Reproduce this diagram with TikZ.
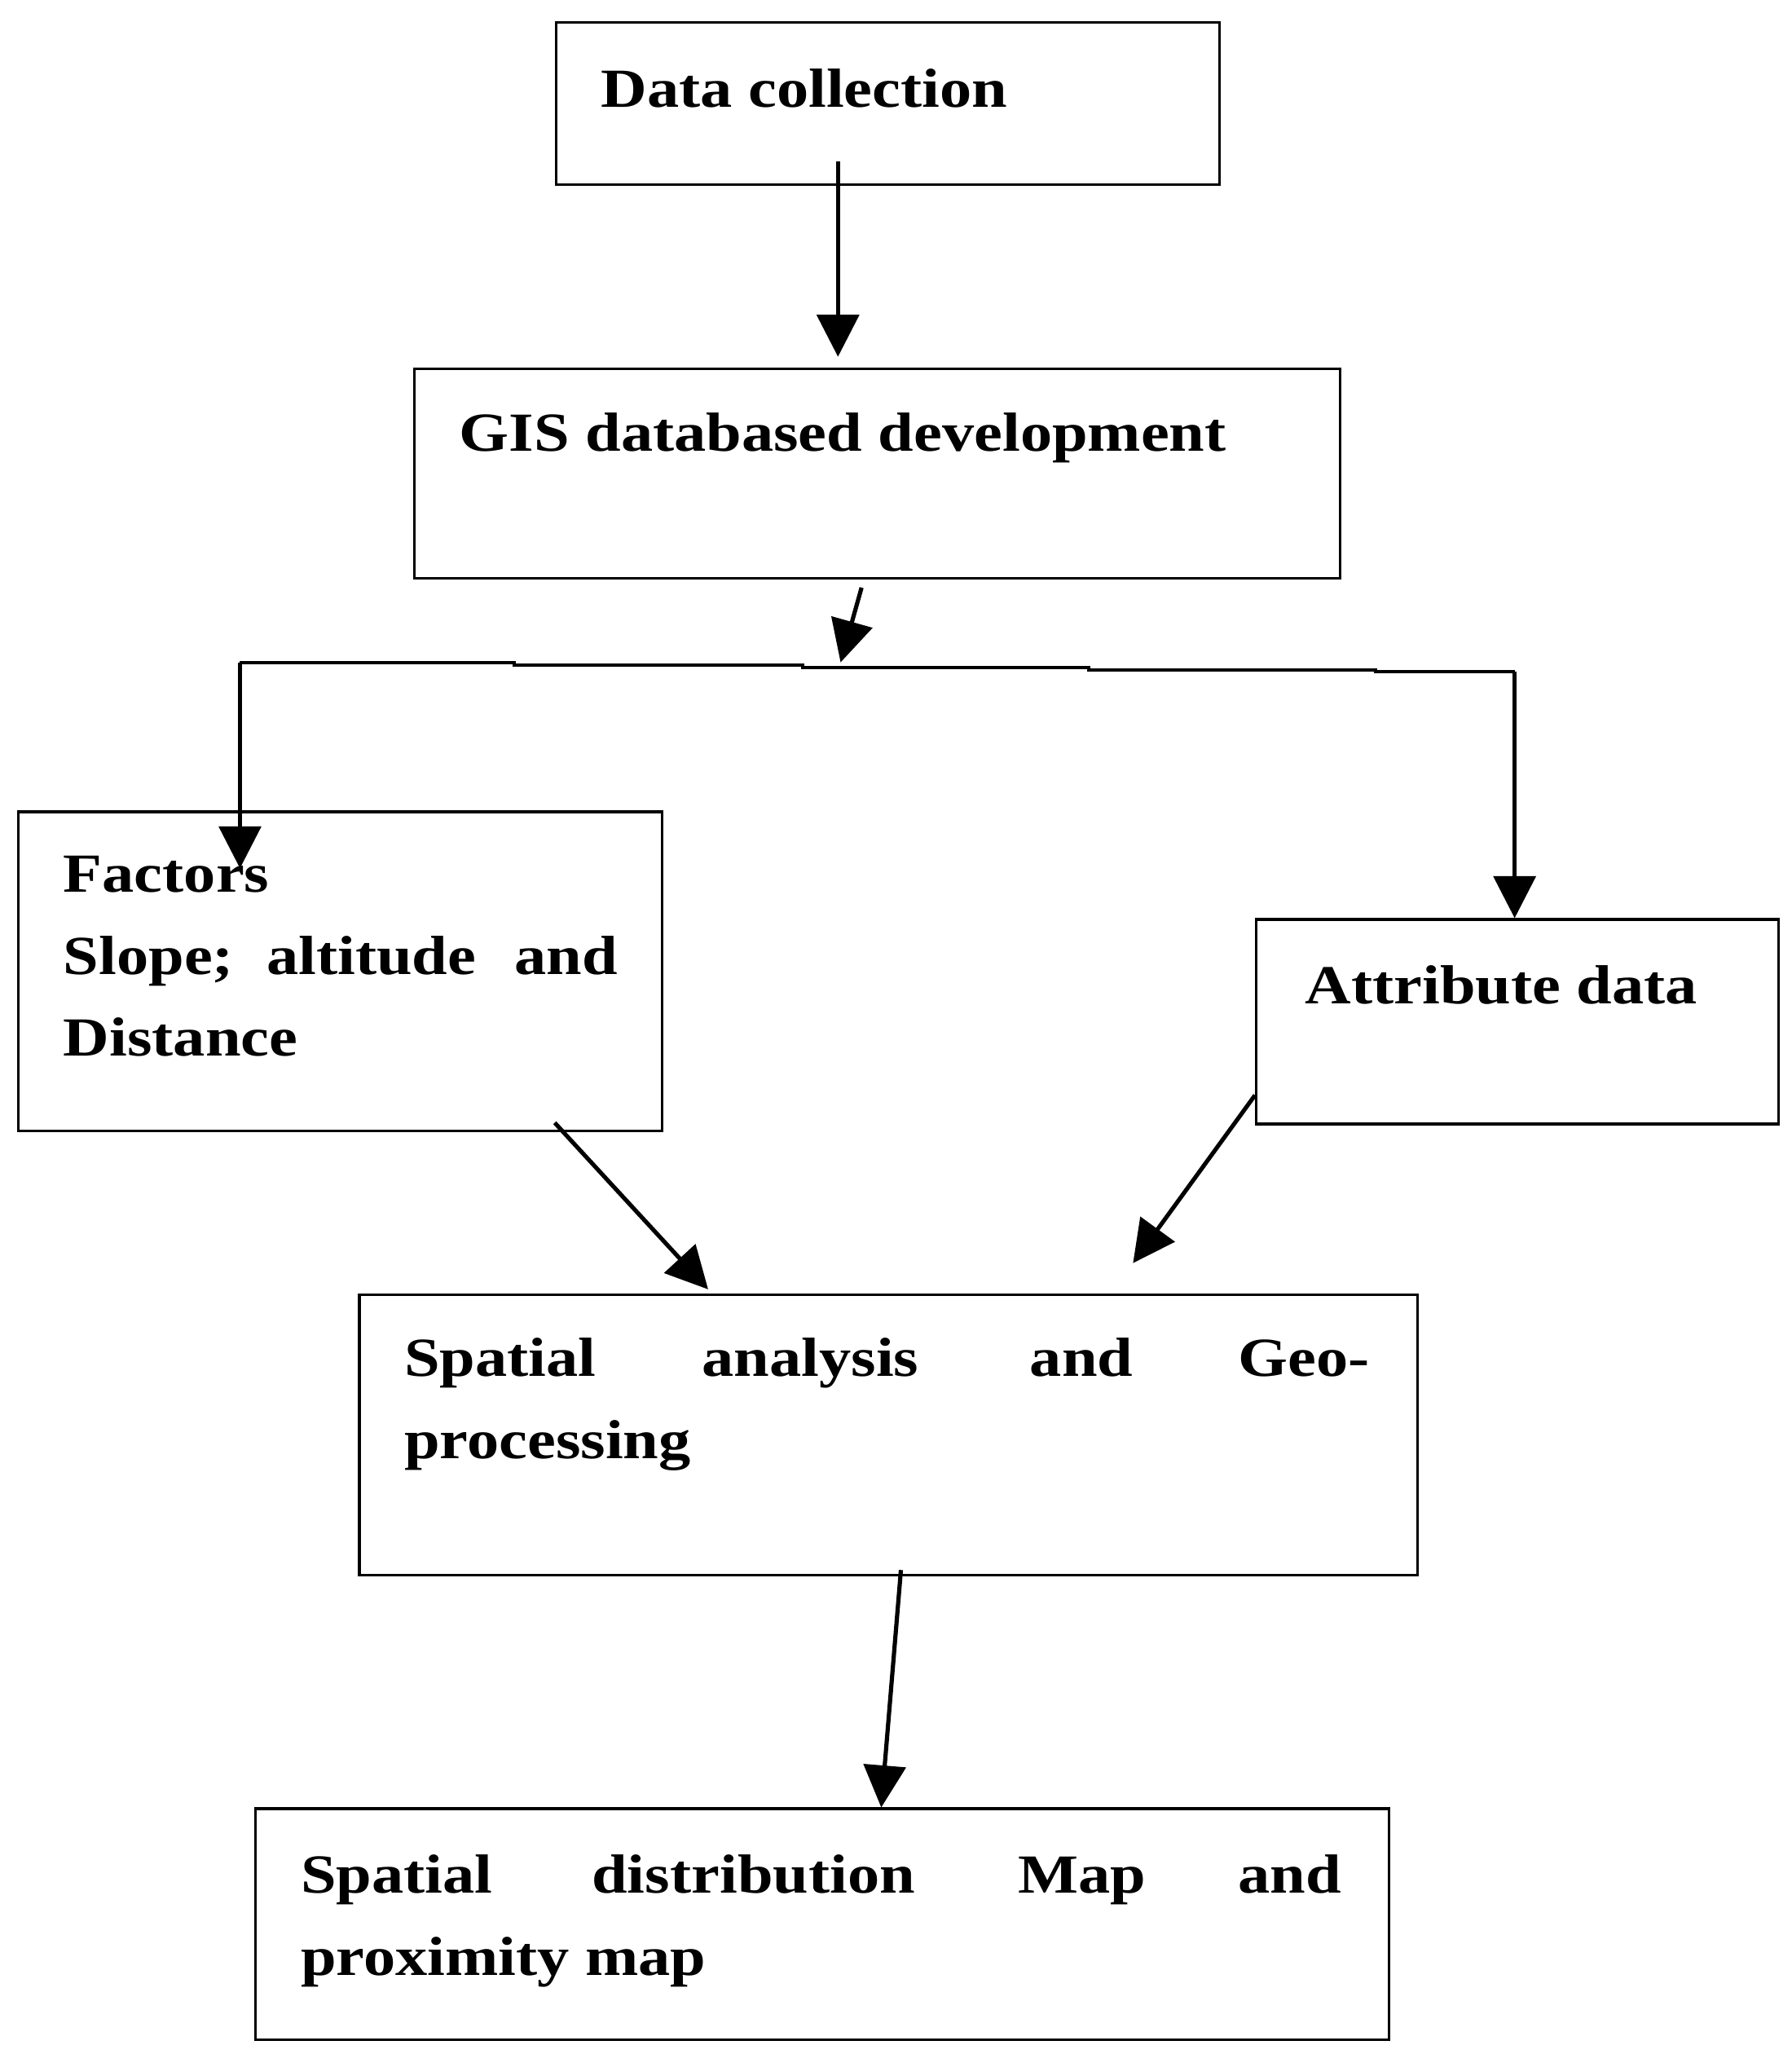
\documentclass[tikz,border=0pt]{standalone}
\usepackage{fontspec}
\setmainfont{Liberation Serif}[FakeStretch=1.16]
\usetikzlibrary{arrows.meta}
\begin{document}
\begin{tikzpicture}[x=0.5pt,y=-0.5pt,
  box/.style={draw,line width=1pt,inner sep=0pt,anchor=north west},
  txt/.style={anchor=base west,inner sep=0pt,font=\fontsize{21}{25}\selectfont\bfseries},
  arr/.style={line width=1.6pt,-{Triangle[width=16pt,length=16pt]}},
  ln/.style={line width=1.3pt}]
\useasboundingbox (0,0) rectangle (1366,1566);
\node[box,minimum width=253pt,minimum height=62pt] (dc) at (423,16) {};
\node[box,minimum width=353pt,minimum height=80pt] (gis) at (315,280) {};
\node[box,minimum width=245.5pt,minimum height=121.5pt] (fac) at (13,618) {};
\node[box,minimum width=199pt,minimum height=78pt] (att) at (957,700) {};
\node[box,minimum width=403.5pt,minimum height=107pt] (sa) at (273,986) {};
\node[box,minimum width=432pt,minimum height=88pt] (sd) at (194,1378) {};
\node[txt] (t1) at (458,82) {Data collection};
\node[txt] (t2) at (350,344) {GIS databased development};
\node[txt] (t3a) at (48,680) {Factors};
\node[txt] (t3b) at (48,743) {Slope;};
\node[txt] (t3c) at (203,743) {altitude};
\node[txt] (t3d) at (392,743) {and};
\node[txt] (t3e) at (48,805) {Distance};
\node[txt] (t4) at (995,765) {Attribute data};
\node[txt] (t5a) at (308,1049) {Spatial};
\node[txt] (t5b) at (535,1049) {analysis};
\node[txt] (t5c) at (785,1049) {and};
\node[txt] (t5d) at (944,1049) {Geo-};
\node[txt] (t5e) at (308,1112) {processing};
\node[txt] (t6a) at (229,1443) {Spatial};
\node[txt] (t6b) at (451,1443) {distribution};
\node[txt] (t6c) at (776,1443) {Map};
\node[txt] (t6d) at (944,1443) {and};
\node[txt] (t6e) at (229,1506) {proximity map};
\coordinate (a1) at (639,123); \coordinate (a2) at (639,272);
\coordinate (b1) at (657,448); \coordinate (b2) at (641,505);
\coordinate (l1) at (183,505); \coordinate (l2) at (183,662);
\coordinate (r1) at (1155,512); \coordinate (r2) at (1155,700);
\coordinate (c1) at (423,856); \coordinate (c2) at (540,983);
\coordinate (d1) at (957,835); \coordinate (d2) at (864,963);
\coordinate (e1) at (687,1197); \coordinate (e2) at (672,1378);
\draw[arr] (a1) -- (a2);
\draw[arr] (b1) -- (b2);
\draw[ln] (l1) -- (392,505) -- (392,507) -- (612,507) -- (612,509) -- (830,509) -- (830,511) -- (1049,511) -- (1049,512) -- (r1);
\draw[arr] (l1) -- (l2);
\draw[arr] (r1) -- (r2);
\draw[arr] (c1) -- (c2);
\draw[arr] (d1) -- (d2);
\draw[arr] (e1) -- (e2);
\end{tikzpicture}
\end{document}
